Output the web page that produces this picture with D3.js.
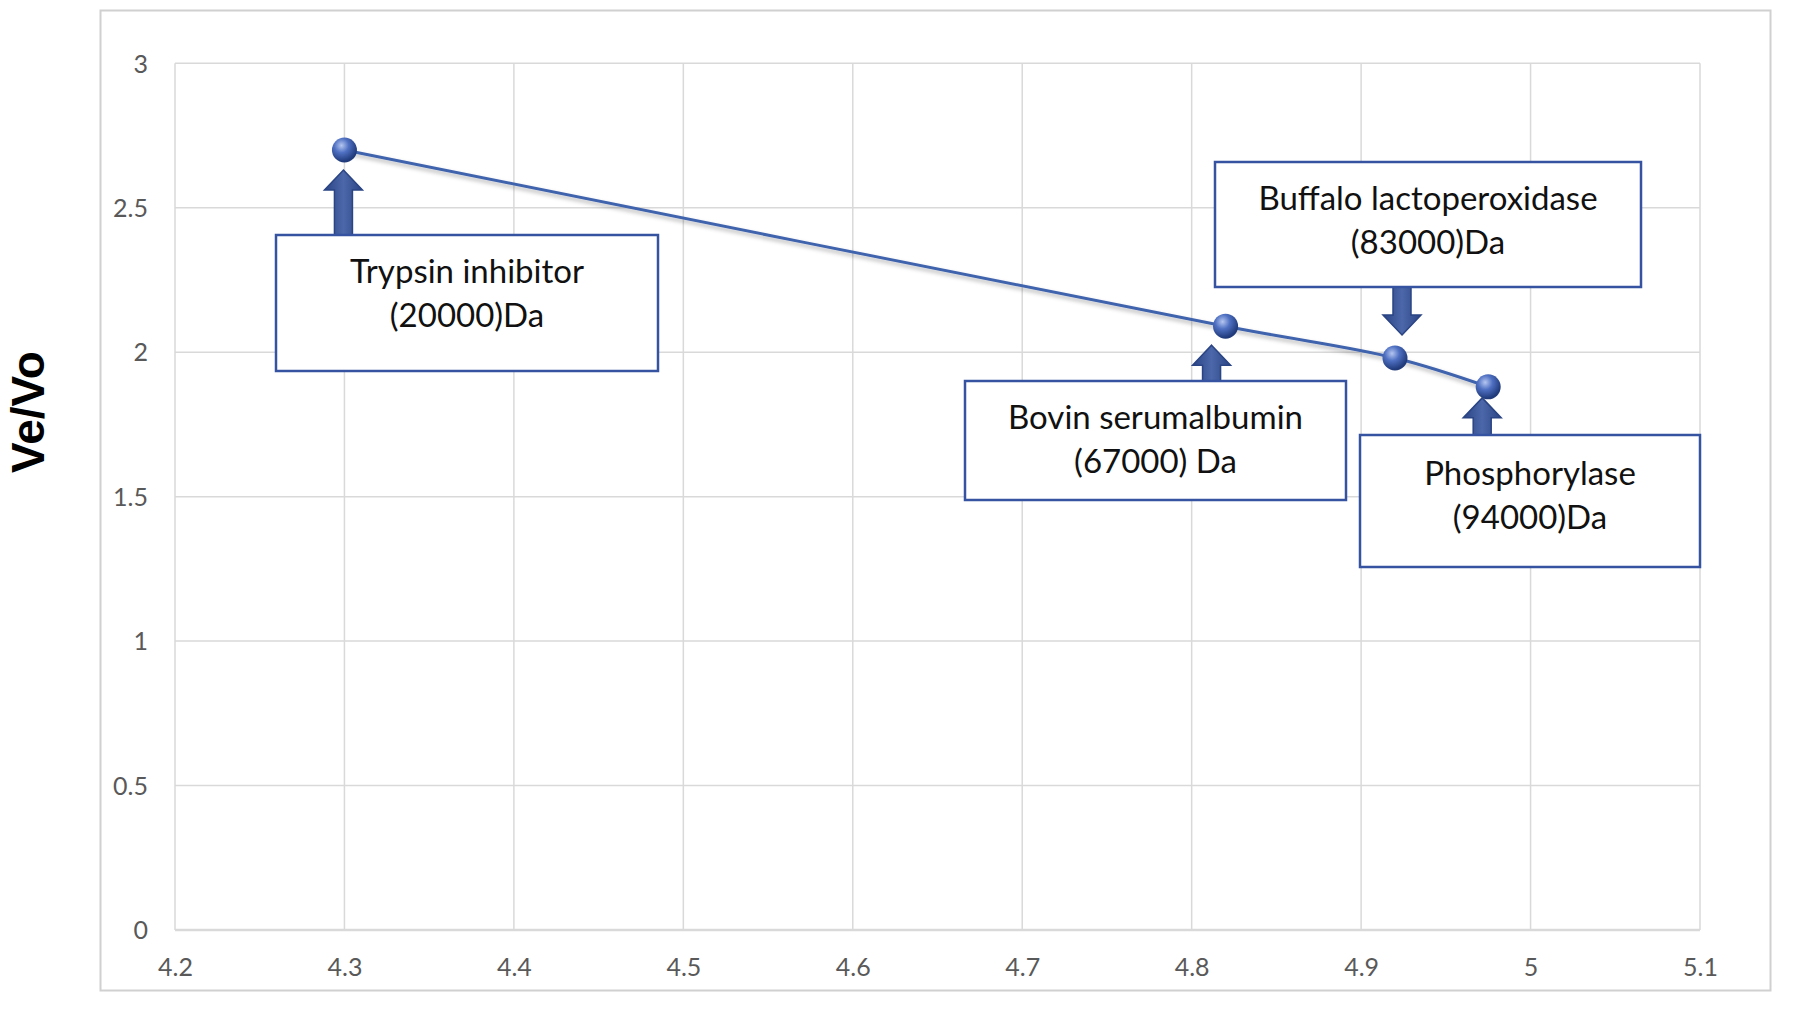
<!DOCTYPE html>
<html>
<head>
<meta charset="utf-8">
<script src="https://cdn.jsdelivr.net/npm/d3@7"></script>
<style>
  html, body { margin: 0; padding: 0; background: #fff; }
  svg { display: block; }
</style>
</head>
<body>
<div id="chart"></div>
<script>
{
    // chart values
    const proteins = ["Trypsin inhibitor", "Bovin serumalbumin", "Buffalo lactoperoxidase", "Phosphorylase"];
    const massLabels = ["(20000)Da", "(67000) Da", "(83000)Da", "(94000)Da"];
    const logMW = [4.3, 4.82, 4.92, 4.975];
    const veVo = [2.7, 2.09, 1.98, 1.88];
    const xTicks = [4.2, 4.3, 4.4, 4.5, 4.6, 4.7, 4.8, 4.9, 5, 5.1];
    const yTicks = [0, 0.5, 1, 1.5, 2, 2.5, 3];
    const yTitle = "Ve/Vo";

    // canvas setup
    const width = 1794, height = 1022;
    const svg = d3.select("#chart")
        .append("svg")
        .attr("width", width)
        .attr("height", height);

    const x = d3.scaleLinear().domain([4.2, 5.1]).range([175, 1700]);
    const y = d3.scaleLinear().domain([0, 3]).range([930, 63.3]);

    const defs = svg.append("defs");

    // sphere look for the markers
    const ball = defs.append("radialGradient")
        .attr("id", "ball")
        .attr("cx", "38%").attr("cy", "32%").attr("r", "65%");
    ball.append("stop").attr("offset", "0%").attr("stop-color", "#b4c6f0");
    ball.append("stop").attr("offset", "45%").attr("stop-color", "#4f70c2");
    ball.append("stop").attr("offset", "100%").attr("stop-color", "#203a7a");

    // arrow fill, lighter in the middle
    const arrowFill = defs.append("linearGradient")
        .attr("id", "arrowFill")
        .attr("x1", "0%").attr("x2", "100%").attr("y1", "0%").attr("y2", "0%");
    arrowFill.append("stop").attr("offset", "0%").attr("stop-color", "#2a4484");
    arrowFill.append("stop").attr("offset", "50%").attr("stop-color", "#4d68aa");
    arrowFill.append("stop").attr("offset", "100%").attr("stop-color", "#2a4484");

    const shadow = defs.append("filter")
        .attr("id", "shadow")
        .attr("x", "-5%").attr("y", "-20%").attr("width", "110%").attr("height", "140%");
    shadow.append("feDropShadow")
        .attr("dx", 2).attr("dy", 3).attr("stdDeviation", 2)
        .attr("flood-color", "#000").attr("flood-opacity", 0.3);

    // outer chart frame
    svg.append("rect")
        .attr("x", 100.5).attr("y", 10.5)
        .attr("width", 1670).attr("height", 980)
        .attr("fill", "#fff")
        .attr("stroke", "#d0d0d0")
        .attr("stroke-width", 2);

    // gridlines
    svg.append("g")
        .selectAll("line")
        .data(xTicks)
        .join("line")
        .attr("x1", d => x(d)).attr("x2", d => x(d))
        .attr("y1", y(0)).attr("y2", y(3))
        .attr("stroke", "#d9d9d9")
        .attr("stroke-width", 1.5);

    svg.append("g")
        .selectAll("line")
        .data(yTicks)
        .join("line")
        .attr("x1", x(4.2)).attr("x2", x(5.1))
        .attr("y1", d => y(d)).attr("y2", d => y(d))
        .attr("stroke", "#d9d9d9")
        .attr("stroke-width", d => d === 0 ? 2.5 : 1.5);

    // tick labels via d3 axes
    const xAxis = svg.append("g")
        .attr("transform", `translate(0,${y(0)})`)
        .call(d3.axisBottom(x).tickValues(xTicks).tickSize(0).tickPadding(28).tickFormat(d3.format("")));
    const yAxis = svg.append("g")
        .attr("transform", `translate(${x(4.2)},0)`)
        .call(d3.axisLeft(y).tickValues(yTicks).tickSize(0).tickPadding(27).tickFormat(d3.format("")));
    [xAxis, yAxis].forEach(a => {
        a.select(".domain").remove();
        a.selectAll("text")
            .attr("fill", "#595959")
            .style("font-family", "Lato, 'Open Sans', sans-serif")
            .style("font-size", "25px");
    });
    yAxis.selectAll("text").attr("dy", "0.35em");

    // y title
    svg.append("text")
        .attr("transform", "translate(44,412) rotate(-90)")
        .attr("text-anchor", "middle")
        .style("font-family", "'Liberation Sans', Arial, sans-serif")
        .style("font-weight", "bold")
        .style("font-size", "46px")
        .attr("fill", "#000")
        .text(yTitle);

    // the curve
    const points = logMW.map((d, i) => [x(d), y(veVo[i])]);
    svg.append("path")
        .attr("d", d3.line().curve(d3.curveCatmullRom.alpha(0.5))(points))
        .attr("fill", "none")
        .attr("stroke", "#4163ad")
        .attr("stroke-width", 3)
        .attr("filter", "url(#shadow)");

    svg.append("g")
        .selectAll("circle")
        .data(points)
        .join("circle")
        .attr("cx", d => d[0])
        .attr("cy", d => d[1])
        .attr("r", 12.5)
        .attr("fill", "url(#ball)");

    // annotation layout: box corners, arrow direction, arrow x offset from point
    const boxes = [
        { x0: 276, y0: 235, x1: 658, y1: 371, dir: "up",   dx: -1,  tip: 20 },
        { x0: 965, y0: 381, x1: 1346, y1: 500, dir: "up",  dx: -14, tip: 19 },
        { x0: 1215, y0: 162, x1: 1641, y1: 287, dir: "down", dx: 7, tip: -23 },
        { x0: 1360, y0: 435, x1: 1700, y1: 567, dir: "up", dx: -6,  tip: 11 }
    ];

    const notes = svg.append("g");
    boxes.forEach((b, i) => {
        const [px, py] = points[i];
        const ax = px + b.dx;
        const tipY = py + b.tip;
        const baseY = b.dir === "up" ? b.y0 : b.y1;
        const s = b.dir === "up" ? 1 : -1;  // direction from tip to tail
        const headLen = 20, headW = 19, shaftW = 9;
        const arrow = [
            [ax, tipY],
            [ax + headW, tipY + s * headLen],
            [ax + shaftW, tipY + s * headLen],
            [ax + shaftW, baseY],
            [ax - shaftW, baseY],
            [ax - shaftW, tipY + s * headLen],
            [ax - headW, tipY + s * headLen]
        ];
        notes.append("path")
            .attr("d", "M" + arrow.join("L") + "Z")
            .attr("fill", "url(#arrowFill)")
            .attr("stroke", "#2a4484")
            .attr("stroke-width", 1.5);

        notes.append("rect")
            .attr("x", b.x0).attr("y", b.y0)
            .attr("width", b.x1 - b.x0).attr("height", b.y1 - b.y0)
            .attr("fill", "#fff")
            .attr("stroke", "#3553a0")
            .attr("stroke-width", 2.5);

        const cx = (b.x0 + b.x1) / 2;
        const t = notes.append("text")
            .attr("text-anchor", "middle")
            .style("font-family", "Lato, 'Open Sans', sans-serif")
            .style("font-size", "33px")
            .attr("fill", "#111");
        const firstY = b.y0 + (i === 3 ? 50 : 48);
        t.append("tspan").attr("x", cx).attr("y", firstY).text(proteins[i]);
        t.append("tspan").attr("x", cx).attr("y", firstY + 44).text(massLabels[i]);
    });
}
</script>
</body>
</html>
